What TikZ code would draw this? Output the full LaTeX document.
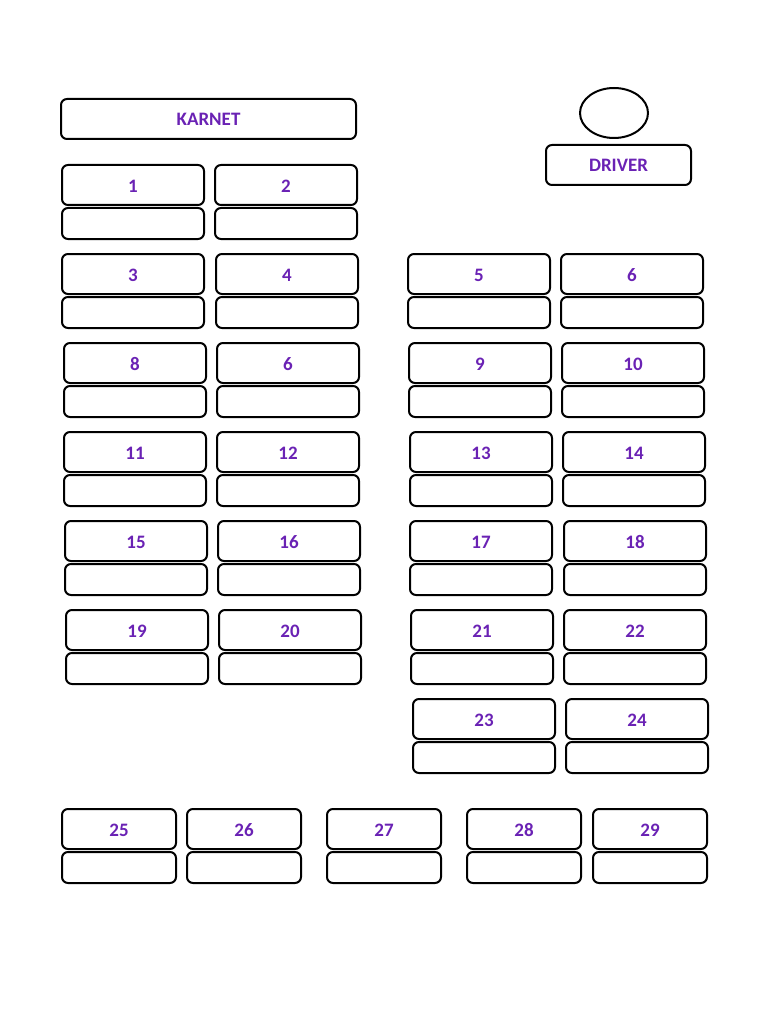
\documentclass[tikz,border=0pt]{standalone}
\usepackage{fontspec}
\setmainfont{Carlito}
\usetikzlibrary{shapes.geometric}
\definecolor{seatpurple}{HTML}{6A22B4}
\tikzset{
 top/.style={draw=black,line width=2pt,rounded corners=6pt,minimum height=40pt,inner sep=0pt,anchor=north west},
 low/.style={draw=black,line width=2pt,rounded corners=6pt,minimum height=31pt,inner sep=0pt,anchor=north west},
 lbl/.style={text=seatpurple,font=\bfseries\fontsize{19}{19}\selectfont}
}
\newcommand{\seatbox}[5]{%
 \node[top,minimum width=#4pt] (t#1) at (#2,#3) {};
 \node[lbl] (l#1) at ([yshift=-1pt]t#1.center) {#5};
 \node[low,minimum width=#4pt] (b#1) at (#2,#3+43) {};
}
\begin{document}
\begin{tikzpicture}[x=1pt,y=-1pt]
\useasboundingbox (0,0) rectangle (768,1024);
\node[top,minimum width=295pt] (karnet) at (60,98) {};
\node[lbl] at (karnet.center) {KARNET};
\node[draw,line width=2pt,ellipse,minimum width=68pt,minimum height=50pt] (wheel) at (614,113) {};
\node[top,minimum width=145pt] (driver) at (545,144) {};
\node[lbl] at (driver.center) {DRIVER};
\seatbox{1}{61}{164}{142}{1}
\seatbox{2}{214}{164}{142}{2}
\seatbox{3}{61}{253}{142}{3}
\seatbox{4}{215}{253}{142}{4}
\seatbox{5}{407}{253}{142}{5}
\seatbox{6}{560}{253}{142}{6}
\seatbox{8}{63}{342}{142}{8}
\seatbox{6b}{216}{342}{142}{6}
\seatbox{9}{408}{342}{142}{9}
\seatbox{10}{561}{342}{142}{10}
\seatbox{11}{63}{431}{142}{11}
\seatbox{12}{216}{431}{142}{12}
\seatbox{13}{409}{431}{142}{13}
\seatbox{14}{562}{431}{142}{14}
\seatbox{15}{64}{520}{142}{15}
\seatbox{16}{217}{520}{142}{16}
\seatbox{17}{409}{520}{142}{17}
\seatbox{18}{563}{520}{142}{18}
\seatbox{19}{65}{609}{142}{19}
\seatbox{20}{218}{609}{142}{20}
\seatbox{21}{410}{609}{142}{21}
\seatbox{22}{563}{609}{142}{22}
\seatbox{23}{412}{698}{142}{23}
\seatbox{24}{565}{698}{142}{24}
\seatbox{25}{61}{808}{114}{25}
\seatbox{26}{186}{808}{114}{26}
\seatbox{27}{326}{808}{114}{27}
\seatbox{28}{466}{808}{114}{28}
\seatbox{29}{592}{808}{114}{29}
\end{tikzpicture}
\end{document}
